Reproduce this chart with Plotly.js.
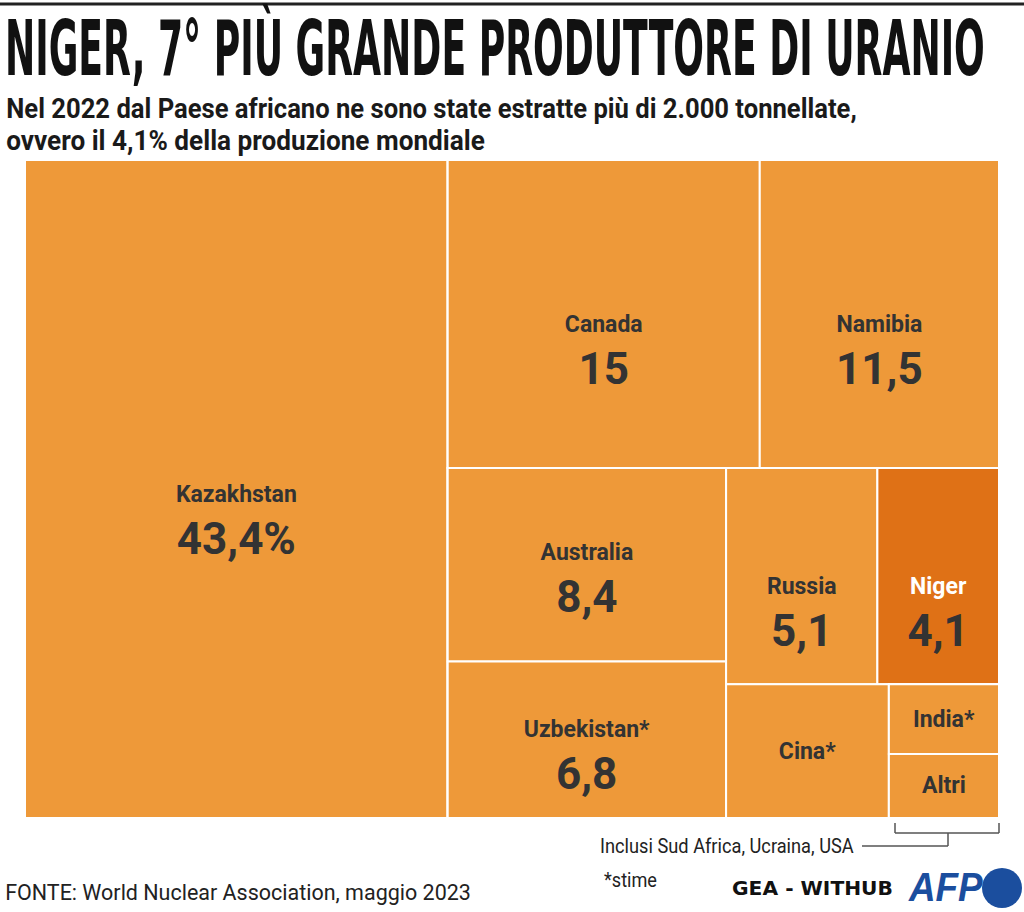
<!DOCTYPE html>
<html>
<head>
<meta charset="utf-8">
<script src="https://cdn.plot.ly/plotly-3.0.1.min.js"></script>
<style>
  html, body { margin: 0; padding: 0; background: #ffffff; }
  #grafico { width: 1024px; height: 912px; }
</style>
</head>
<body>
<div id="grafico"></div>
<script>
// Produzione mondiale di uranio nel 2022: quota percentuale per paese
const paesi      = ['Kazakhstan', 'Canada', 'Namibia', 'Australia', 'Uzbekistan', 'Russia', 'Niger', 'Cina', 'India', 'Altri'];
const etichette  = ['Kazakhstan', 'Canada', 'Namibia', 'Australia', 'Uzbekistan*', 'Russia', 'Niger', 'Cina*', 'India*', 'Altri'];
const quote      = [43.4, 15, 11.5, 8.4, 6.8, 5.1, 4.1, 3.4, 1.2, 1.1];
const mostraQuota = [true, true, true, true, true, true, true, false, false, false];

// Raggruppamenti usati per disporre i riquadri (alternanza orizzontale/verticale)
const gruppi = ['tot', 'resto', 'alto', 'basso', 'ausuzb', 'minori', 'rusnig', 'piccoli', 'indalt'];
const figli  = [
  ['Kazakhstan', 'resto'],
  ['alto', 'basso'],
  ['Canada', 'Namibia'],
  ['ausuzb', 'minori'],
  ['Australia', 'Uzbekistan'],
  ['rusnig', 'piccoli'],
  ['Russia', 'Niger'],
  ['Cina', 'indalt'],
  ['India', 'Altri']
];

// Riga vuota sopra l'etichetta (corpo in px) che abbassa il testo nei riquadri con la quota
const rigaVuota = { Kazakhstan: 40, Canada: 50, Namibia: 50, Australia: 2, Uzbekistan: 6, Russia: 50, Niger: 50 };

const ARANCIO = '#EE9939';
const ARANCIO_SCURO = '#DF7116';
const TESTO = '#333333';
const NARROW = '"DejaVu Sans Condensed", "Roboto", sans-serif';
const ROBOTO = '"Roboto", "Liberation Sans", sans-serif';

// Geometria della pagina
const W = 1024, H = 912, ML = 25, MR = 25, MT = 160, MB = 94;
const PW = W - ML - MR, PH = H - MT - MB;
const fx = px => (px - ML) / PW;
const fy = py => (H - MB - py) / PH;

function formatta(v, i) {
  const s = String(v).replace('.', ',');
  return i === 0 ? s + '%' : s;
}

const ids = [], parents = [], labels = [], values = [], testi = [], colori = [];
function visita(id, padre) {
  ids.push(id);
  parents.push(padre);
  const g = gruppi.indexOf(id);
  if (g >= 0) {
    labels.push('');
    values.push(0);
    testi.push('');
    colori.push(ARANCIO);
    figli[g].forEach(f => visita(f, id));
  } else {
    const i = paesi.indexOf(id);
    labels.push(etichette[i]);
    values.push(quote[i]);
    const colNome = id === 'Niger' ? '#ffffff' : TESTO;
    let t = '<b><span style="font-size:23px;color:' + colNome + '">' + etichette[i] + '</span></b>';
    if (mostraQuota[i]) {
      t += '<br><b><span style="font-size:44px">' + formatta(quote[i], i) + '</span></b>';
    }
    if (rigaVuota[id]) {
      t = '<span style="font-size:' + rigaVuota[id] + 'px">&nbsp;</span><br>' + t;
    }
    testi.push(t);
    colori.push(id === 'Niger' ? ARANCIO_SCURO : ARANCIO);
  }
}
visita('tot', '');

const traccia = {
  type: 'treemap',
  ids: ids,
  parents: parents,
  labels: labels,
  values: values,
  branchvalues: 'remainder',
  sort: false,
  text: testi,
  textinfo: 'text',
  textposition: 'middle center',
  textfont: { family: ROBOTO, size: 40, color: TESTO },
  hoverinfo: 'skip',
  tiling: { packing: 'slice-dice', pad: 0 },
  marker: {
    colors: colori,
    line: { color: '#ffffff', width: 2 },
    pad: { t: 0, l: 0, r: 0, b: 0 }
  },
  pathbar: { visible: false },
  root: { color: ARANCIO }
};

// Testi di contorno, con la larghezza che ciascuno deve occupare
const note = [
  { text: '<b>Nel 2022 dal Paese africano ne sono state estratte più di 2.000 tonnellate,</b>',
    x: fx(4), y: fy(109), font: { family: ROBOTO, size: 27, color: '#1a1a1a' }, larghezza: 851 },
  { text: '<b>ovvero il 4,1% della produzione mondiale</b>',
    x: fx(4), y: fy(141), font: { family: ROBOTO, size: 27, color: '#1a1a1a' }, larghezza: 479 },
  { text: 'Inclusi Sud Africa, Ucraina, USA',
    x: fx(598), y: fy(846), font: { family: ROBOTO, size: 21, color: '#222222' }, larghezza: 254 },
  { text: '*stime',
    x: fx(602), y: fy(880), font: { family: ROBOTO, size: 21, color: '#222222' }, larghezza: 53 },
  { text: 'FONTE: World Nuclear Association, maggio 2023',
    x: fx(3), y: fy(892), font: { family: ROBOTO, size: 22, color: '#222222' }, larghezza: 466 },
  { text: '<b>GEA - WITHUB</b>',
    x: fx(730), y: fy(888), font: { family: '"DejaVu Sans", sans-serif', size: 20, color: '#111111' }, larghezza: 161 },
  { text: '<b>AFP</b>',
    x: fx(906), y: fy(887), font: { family: '"Liberation Sans", "DejaVu Sans", sans-serif', size: 40, color: '#1B4E9E', style: 'italic' }, larghezza: 75 }
];

const grigio = '#555555';
const layout = {
  width: W,
  height: H,
  margin: { l: ML, r: MR, t: MT, b: MB },
  paper_bgcolor: '#ffffff',
  showlegend: false,
  title: {
    text: '<b>NIGER, 7° PIÙ GRANDE PRODUTTORE DI URANIO</b>',
    font: { family: NARROW, size: 76, color: '#111111' },
    x: 5 / W,
    xanchor: 'left',
    xref: 'container',
    y: 1 - 48 / H,
    yanchor: 'middle',
    yref: 'container'
  },
  annotations: note.map(n => ({
    text: n.text, x: n.x, y: n.y, font: n.font,
    xref: 'paper', yref: 'paper', xanchor: 'left', yanchor: 'middle', showarrow: false
  })),
  shapes: [
    // filetto superiore
    { type: 'line', x0: fx(0), x1: fx(W), y0: fy(4), y1: fy(4), line: { color: '#222222', width: 3 } },
    // parentesi sotto "Altri"
    { type: 'line', x0: fx(895), x1: fx(895), y0: fy(823), y1: fy(833), line: { color: grigio, width: 1.5 } },
    { type: 'line', x0: fx(999), x1: fx(999), y0: fy(823), y1: fy(833), line: { color: grigio, width: 1.5 } },
    { type: 'line', x0: fx(895), x1: fx(999), y0: fy(833), y1: fy(833), line: { color: grigio, width: 1.5 } },
    { type: 'line', x0: fx(948), x1: fx(948), y0: fy(833), y1: fy(846), line: { color: grigio, width: 1.5 } },
    { type: 'line', x0: fx(862), x1: fx(948), y0: fy(846), y1: fy(846), line: { color: grigio, width: 1.5 } },
    // cerchio del logo AFP
    { type: 'circle', x0: fx(982), x1: fx(1022), y0: fy(908), y1: fy(868), fillcolor: '#1B4E9E', line: { width: 0 } }
  ].map(s => Object.assign({ xref: 'paper', yref: 'paper' }, s))
};

// Comprime in orizzontale un testo SVG fino alla larghezza voluta, tenendo fermo il bordo sinistro
function comprimi(el, larghezza) {
  if (!el) return;
  const bb = el.getBBox();
  if (!bb.width) return;
  const s = larghezza / bb.width;
  const prima = el.getAttribute('transform') || '';
  el.setAttribute('transform', (prima + ' translate(' + bb.x + ',0) scale(' + s + ',1) translate(' + (-bb.x) + ',0)').trim());
}

Plotly.newPlot('grafico', [traccia], layout, { displayModeBar: false, staticPlot: true }).then(gd => {
  comprimi(gd.querySelector('.gtitle'), 980);
  const gruppiNote = gd.querySelectorAll('.annotation');
  gruppiNote.forEach((g, i) => {
    if (note[i]) comprimi(g.querySelector('text.annotation-text'), note[i].larghezza);
  });
});
</script>
</body>
</html>
